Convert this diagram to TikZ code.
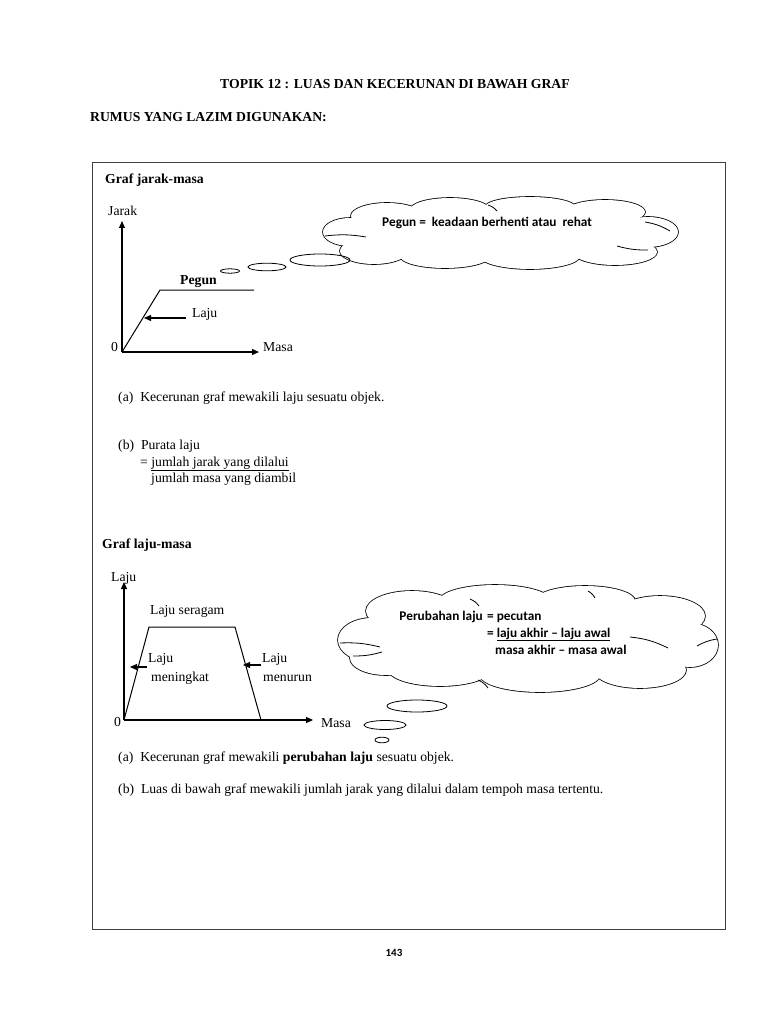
\documentclass[tikz,border=0pt]{standalone}
\usepackage{fontspec}
\setmainfont{Liberation Serif}
\newfontfamily\calfont{Carlito}
\usetikzlibrary{arrows.meta}
\begin{document}
\begin{tikzpicture}[x=1pt,y=-1pt,
  txt/.style={anchor=base west, inner sep=0pt, font=\fontsize{13.7}{16}\selectfont},
  btxt/.style={anchor=base west, inner sep=0pt, font=\fontsize{13.7}{16}\selectfont\bfseries},
  ctxt/.style={anchor=base west, inner sep=0pt, font=\calfont\bfseries\fontsize{13.3}{16}\selectfont},
  ax/.style={line width=1.1pt, -{Triangle[length=7pt,width=6pt]}},
  gl/.style={line width=1pt},
  bub/.style={draw, line width=0.8pt},
  puff/.style={draw, line width=1.6pt},
  inner/.style={draw, line width=0.8pt}]
\fill[white] (0,0) rectangle (768,1024);
\useasboundingbox (0,0) rectangle (768,1024);

% headings
\node[anchor=base, inner sep=0pt, font=\fontsize{13.7}{16}\selectfont\bfseries] (title) at (395,89) {TOPIK 12 : LUAS DAN KECERUNAN DI BAWAH GRAF};
\node[btxt] (rumus) at (90,122) {RUMUS YANG LAZIM DIGUNAKAN:};

% frame
\draw[line width=1pt, black!75] (92,163) rectangle (725,929);

% ---------- Graf jarak-masa ----------
\node[btxt] (g1) at (105,184) {Graf jarak-masa};
\node[txt] (jarak) at (108,216) {Jarak};
\coordinate (O1) at (122,352);
\coordinate (Y1) at (122,221);
\coordinate (X1) at (259,352);
\draw[ax] (O1) -- (Y1);
\draw[ax] (O1) -- (X1);
\node[txt] (zero1) at (111,351) {0};
\node[txt] (masa1) at (263,351) {Masa};
\coordinate (P1) at (160,290);
\coordinate (P2) at (254,290);
\draw[gl] (O1) -- (P1) -- (P2);
\node[btxt] (pegun) at (180,284) {Pegun};
\coordinate (A1s) at (186,318);
\coordinate (A1e) at (144,318);
\draw[ax] (A1s) -- (A1e);
\node[txt] (laju1) at (192,317) {Laju};

% cloud 1 (union of puffs)
\coordinate (c1) at (500,233);
\foreach \cx/\cy/\rx/\ry in {350/232/27/14, 374/251/34/13, 387/216/36/13, 450/210/40/12, 530/207/45/10,
  605/212/40/12, 648/232/30/15, 615/252/42/13, 530/256/50/13, 445/256/45/12}
  \draw[puff] (\cx,\cy) ellipse [x radius=\rx pt, y radius=\ry pt];
\foreach \cx/\cy/\rx/\ry in {350/232/27/14, 374/251/34/13, 387/216/36/13, 450/210/40/12, 530/207/45/10,
  605/212/40/12, 648/232/30/15, 615/252/42/13, 530/256/50/13, 445/256/45/12}
  \fill[white] (\cx,\cy) ellipse [x radius=\rx pt, y radius=\ry pt];
\fill[white] (c1) ellipse [x radius=150pt, y radius=26pt];
% inner strokes of cloud 1
\draw[inner] (325,236) to[bend left=8] (366,237);
\draw[inner] (645,222) to[bend left=10] (670,231);
\draw[inner] (617,246) to[bend right=8] (648,250);
\draw[inner] (488,205) to[bend left=15] (497,211);

% thought bubbles 1
\draw[bub] (230,271) ellipse [x radius=9.5pt, y radius=2.2pt];
\draw[bub] (267,267) ellipse [x radius=19pt, y radius=3.8pt];
\draw[bub] (320,260) ellipse [x radius=30pt, y radius=6pt];
\node[ctxt] (c1t) at (382,226) {Pegun =\ \ keadaan berhenti atau\ \ rehat};

\node[txt] (a1) at (118,401) {(a)\ \ Kecerunan graf mewakili laju sesuatu objek.};
\node[txt] (b1) at (118,449) {(b)\ \ Purata laju};
\node[txt] (b1eq) at (140,466) {= \underline{jumlah jarak yang dilalui}};
\node[txt] (b1den) at (151,482) {jumlah masa yang diambil};

% ---------- Graf laju-masa ----------
\node[btxt] (g2) at (102,548) {Graf laju-masa};
\node[txt] (laju2) at (111,581) {Laju};
\coordinate (O2) at (124,720);
\coordinate (Y2) at (124,582);
\coordinate (X2) at (313,720);
\draw[ax] (O2) -- (Y2);
\draw[ax] (O2) -- (X2);
\node[txt] (zero2) at (114,726) {0};
\node[txt] (masa2) at (321,727) {Masa};
\coordinate (T1) at (149,627);
\coordinate (T2) at (235,627);
\coordinate (T3) at (261,720);
\draw[gl] (O2) -- (T1) -- (T2) -- (T3);
\node[txt] (seragam) at (150,614) {Laju seragam};
\coordinate (A2s) at (147,667);
\coordinate (A2e) at (130,667);
\draw[ax] (A2s) -- (A2e);
\node[txt] (lm1) at (148,662) {Laju};
\node[txt] (lm2) at (151,681) {meningkat};
\coordinate (A3s) at (261,665);
\coordinate (A3e) at (243,665);
\draw[ax] (A3s) -- (A3e);
\node[txt] (ln1) at (262,662) {Laju};
\node[txt] (ln2) at (263,681) {menurun};

% cloud 2 (union of puffs)
\coordinate (c2) at (528,638);
\foreach \cx/\cy/\rx/\ry in {372/640/34/22, 386/658/36/17, 412/611/46/20, 495/601/56/16, 585/601/50/15,
  660/616/45/20, 690/645/28/22, 640/670/46/18, 540/675/60/17, 440/669/52/17}
  \draw[puff] (\cx,\cy) ellipse [x radius=\rx pt, y radius=\ry pt];
\foreach \cx/\cy/\rx/\ry in {372/640/34/22, 386/658/36/17, 412/611/46/20, 495/601/56/16, 585/601/50/15,
  660/616/45/20, 690/645/28/22, 640/670/46/18, 540/675/60/17, 440/669/52/17}
  \fill[white] (\cx,\cy) ellipse [x radius=\rx pt, y radius=\ry pt];
\fill[white] (c2) ellipse [x radius=160pt, y radius=40pt];
% inner strokes of cloud 2
\draw[inner] (340,643) to[bend left=8] (380,647);
\draw[inner] (353,656) to[bend right=8] (382,652);
\draw[inner] (470,599) to[bend left=15] (479,606);
\draw[inner] (588,591) to[bend left=15] (595,598);
\draw[inner] (630,637) to[bend left=10] (668,648);
\draw[inner] (697,646) to[bend left=10] (717,639);
\draw[inner] (478,680) to[bend left=15] (488,688);

% thought bubbles 2
\draw[bub] (382,740) ellipse [x radius=7pt, y radius=2.8pt];
\draw[bub] (385,725) ellipse [x radius=21pt, y radius=4.5pt];
\draw[bub] (417,706) ellipse [x radius=30pt, y radius=6pt];
\node[ctxt, anchor=base east] (c2a) at (483,620) {Perubahan laju};
\node[ctxt] (c2b) at (487,620) {= pecutan};
\node[ctxt] (c2c) at (487,637) {= \underline{laju akhir – laju awal}};
\node[ctxt] (c2d) at (495,654) {masa akhir – masa awal};

\node[txt] (a2) at (118,761) {(a)\ \ Kecerunan graf mewakili \textbf{perubahan laju} sesuatu objek.};
\node[txt] (b2) at (118,793) {(b)\ \ Luas di bawah graf mewakili jumlah jarak yang dilalui dalam tempoh masa tertentu.};

\node[anchor=base, inner sep=0pt, font=\calfont\bfseries\fontsize{11}{13}\selectfont] (pg) at (394,956) {143};
\end{tikzpicture}
\end{document}
